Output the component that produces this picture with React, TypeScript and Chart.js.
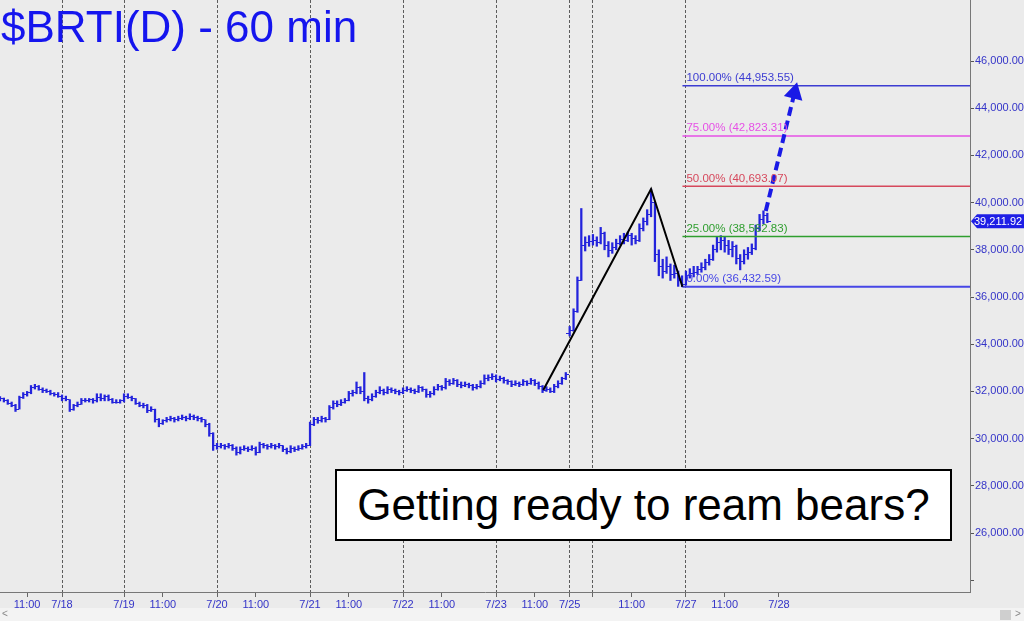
import React, { useEffect, useRef } from "react";
import { Chart, registerables } from "chart.js";

Chart.register(...registerables);

// ---------- DATA ----------
const opens = [
  31650, 31700, 31600, 31500, 31400, 31250, 31750, 31850, 31950, 32150,
  32200, 32100, 32050, 32000, 31900, 31850, 31800, 31700, 31650, 31250,
  31400, 31450, 31600, 31600, 31650, 31600, 31750, 31700, 31800, 31650,
  31550, 31550, 31600, 31800, 31750, 31700, 31500, 31400, 31400, 31200,
  31250, 30800, 30650, 30750, 30800, 30850, 30800, 30850, 30900, 30850,
  30950, 30900, 30850, 30800, 30600, 30200, 29700, 29650, 29700, 29650,
  29700, 29600, 29400, 29550, 29600, 29550, 29600, 29400, 29750, 29700,
  29650, 29700, 29650, 29700, 29550, 29450, 29600, 29550, 29600, 29650,
  29700, 30600, 30800, 30750, 30850, 30800, 31300, 31500, 31450, 31550,
  31600, 31900, 31950, 32150, 32000, 31700, 31650, 31800, 31950, 32050,
  31950, 32100, 32050, 32000, 31950, 32050, 32100, 32050, 32000, 32150,
  32100, 31850, 31900, 32100, 32200, 32150, 32400, 32350, 32450, 32300,
  32250, 32300, 32250, 32150, 32200, 32350, 32550, 32600, 32650, 32500,
  32550, 32450, 32400, 32300, 32350, 32300, 32400, 32350, 32450, 32350,
  32200, 32050, 32100, 32000, 32200, 32350, 32550, 34450, 34600, 35400,
  36700, 38200, 38300, 38350, 38400, 38300, 38700, 38200, 37950, 38100,
  38250, 38450, 38400, 38600, 38500, 38400, 38900, 39200, 39500, 40000,
  37800, 37300, 37100, 37300, 36950, 37000, 36700, 36550, 36900, 37000,
  37050, 37150, 37250, 37450, 37600, 38000, 38300, 38400, 38200, 38000,
  38150, 37650, 37500, 37800, 37900, 38050, 38900, 39300, 39450,
];
const highs = [
  31780, 31720, 31650, 31550, 31450, 31800, 31950, 32000, 32250, 32300,
  32250, 32150, 32100, 32050, 31950, 31950, 31850, 31800, 31650, 31450,
  31550, 31700, 31700, 31700, 31700, 31900, 31900, 31850, 31850, 31700,
  31650, 31650, 31900, 31900, 31800, 31700, 31550, 31500, 31450, 31350,
  31250, 30850, 30800, 30900, 30950, 30900, 30950, 31000, 30950, 31050,
  31000, 30950, 30900, 30800, 30650, 30250, 29800, 29800, 29750, 29800,
  29750, 29650, 29650, 29700, 29650, 29700, 29650, 29850, 29800, 29750,
  29800, 29750, 29800, 29700, 29600, 29700, 29650, 29700, 29750, 29800,
  30700, 30900, 30900, 30950, 30900, 31400, 31600, 31600, 31650, 31700,
  32000, 32050, 32400, 32200, 32800, 31800, 31900, 32050, 32200, 32100,
  32200, 32150, 32100, 32050, 32150, 32200, 32150, 32100, 32250, 32200,
  32100, 32000, 32200, 32300, 32250, 32550, 32500, 32550, 32500, 32400,
  32400, 32350, 32300, 32300, 32450, 32700, 32700, 32750, 32700, 32650,
  32600, 32500, 32450, 32450, 32400, 32500, 32450, 32550, 32500, 32400,
  32250, 32200, 32150, 32300, 32450, 32600, 32800, 34750, 35500, 36850,
  39750, 38550, 38600, 38650, 38550, 38950, 38750, 38350, 38300, 38450,
  38600, 38700, 38750, 38700, 38600, 39100, 39350, 39700, 40576, 40000,
  38000, 37600, 37700, 37400, 37350, 37100, 36900, 37100, 37200, 37300,
  37300, 37450, 37600, 37800, 38200, 38550, 38600, 38550, 38400, 38350,
  38200, 37800, 38000, 38100, 38250, 39050, 39500, 39650, 39550,
];
const lows = [
  31600, 31550, 31450, 31350, 31150, 31250, 31700, 31800, 31900, 32100,
  32050, 31950, 31950, 31850, 31800, 31750, 31600, 31600, 31150, 31200,
  31350, 31450, 31550, 31550, 31500, 31550, 31600, 31600, 31600, 31500,
  31500, 31500, 31550, 31700, 31600, 31450, 31350, 31300, 31100, 31150,
  30700, 30500, 30600, 30700, 30750, 30700, 30750, 30800, 30750, 30800,
  30800, 30750, 30700, 30500, 30100, 29500, 29550, 29600, 29550, 29600,
  29500, 29300, 29350, 29500, 29450, 29500, 29300, 29400, 29600, 29550,
  29600, 29550, 29600, 29450, 29350, 29400, 29450, 29500, 29550, 29600,
  29700, 30550, 30650, 30700, 30700, 30800, 31250, 31350, 31400, 31500,
  31600, 31800, 31900, 31900, 31600, 31500, 31600, 31750, 31900, 31850,
  31900, 31950, 31900, 31850, 31900, 32000, 31950, 31900, 31950, 32000,
  31750, 31750, 31850, 32050, 32050, 32100, 32250, 32300, 32200, 32150,
  32200, 32150, 32050, 32100, 32150, 32300, 32450, 32500, 32400, 32450,
  32350, 32300, 32200, 32250, 32200, 32250, 32250, 32300, 32250, 32100,
  31950, 32000, 31950, 31950, 32150, 32300, 32500, 34350, 34550, 35350,
  36700, 37950, 38150, 38200, 38150, 38250, 38000, 37700, 37850, 38000,
  38200, 38250, 38350, 38200, 38250, 38350, 38800, 39050, 39400, 37500,
  36900, 36800, 37000, 36700, 36800, 36450, 36432, 36500, 36800, 36850,
  36950, 37050, 37150, 37350, 37550, 37900, 38000, 37900, 37800, 37700,
  37400, 37150, 37400, 37600, 37800, 38000, 38800, 39100, 39150,
];
const closes = [
  31700, 31600, 31500, 31400, 31250, 31750, 31850, 31950, 32150, 32200,
  32100, 32050, 32000, 31900, 31850, 31800, 31700, 31650, 31250, 31400,
  31450, 31600, 31600, 31650, 31600, 31750, 31700, 31800, 31650, 31550,
  31550, 31600, 31800, 31750, 31700, 31500, 31400, 31400, 31200, 31250,
  30800, 30650, 30750, 30800, 30850, 30800, 30850, 30900, 30850, 30950,
  30900, 30850, 30800, 30600, 30200, 29700, 29650, 29700, 29650, 29700,
  29600, 29400, 29550, 29600, 29550, 29600, 29400, 29750, 29700, 29650,
  29700, 29650, 29700, 29550, 29450, 29600, 29550, 29600, 29650, 29700,
  30600, 30800, 30750, 30850, 30800, 31300, 31500, 31450, 31550, 31600,
  31900, 31950, 32150, 32000, 31700, 31650, 31800, 31950, 32050, 31950,
  32100, 32050, 32000, 31950, 32050, 32100, 32050, 32000, 32150, 32100,
  31850, 31900, 32100, 32200, 32150, 32400, 32350, 32450, 32300, 32250,
  32300, 32250, 32150, 32200, 32350, 32550, 32600, 32650, 32500, 32550,
  32450, 32400, 32300, 32350, 32300, 32400, 32350, 32450, 32350, 32200,
  32050, 32100, 32000, 32200, 32350, 32550, 32700, 34600, 35400, 36700,
  38200, 38300, 38350, 38400, 38300, 38700, 38200, 37950, 38100, 38250,
  38450, 38400, 38600, 38500, 38400, 38900, 39200, 39500, 40000, 37800,
  37300, 37100, 37300, 36950, 37000, 36700, 36550, 36900, 37000, 37050,
  37150, 37250, 37450, 37600, 38000, 38300, 38400, 38200, 38000, 38150,
  37650, 37500, 37800, 37900, 38050, 38900, 39300, 39450, 39211.92,
];

// x axis: bar index positions of tick labels
const xTickIndex = [7, 16, 32, 42, 56, 66, 80, 90, 104, 114, 128, 138, 147, 153, 163, 177, 187, 201];
const xTickLabels = ["11:00", "7/18", "7/19", "11:00", "7/20", "11:00", "7/21", "11:00", "7/22", "11:00", "7/23", "11:00", "7/25", "", "11:00", "7/27", "11:00", "7/28"];
const dayLineIndex = [16, 32, 56, 80, 104, 128, 147, 153, 177];
const yTicks = [24000, 26000, 28000, 30000, 32000, 34000, 36000, 38000, 40000, 42000, 44000, 46000];

// Fibonacci projection
const fibLevels = [44953.55, 42823.31, 40693.07, 38562.83, 36432.59];
const fibLabels = ["100.00%", "75.00%", "50.00%", "25.00%", "0.00%"];
const fibColors = ["#3c3cd2", "#e650e6", "#d6485c", "#2f9e2f", "#4646e6"];
const fibStartIndex = 176.1;

// ABC pattern
const abcIndex = [140.2, 168, 176.1];
const abcValues = [32055.7, 40576.6, 36432.59];

// projected arrow
const arrowIndex = [197.6, 205.0];
const arrowValues = [39644, 44644];

const X_MIN = 0;
const X_MAX = 250.3;
const Y_MIN = 23500;
const Y_MAX = 48585;

const BAR_COLOR = "#2323dc";
const AXIS_TEXT = "#3434c8";
const BG = "#ebebeb";
const FONT = "'Liberation Sans', Arial, sans-serif";

const fmt = (v: number) =>
  v.toLocaleString("en-US", { minimumFractionDigits: 2, maximumFractionDigits: 2 });

const zeroPad = (s: any) => {
  s.paddingTop = 0;
  s.paddingBottom = 0;
  s.paddingLeft = 0;
  s.paddingRight = 0;
};

export default function App() {
  const ref = useRef<HTMLCanvasElement>(null);

  useEffect(() => {
    document.body.style.margin = "0";
    const canvas = ref.current;
    if (!canvas) return;

    const tickCanvas = (side: "left" | "right") => {
      const c = document.createElement("canvas");
      c.width = 7;
      c.height = 1;
      const g = c.getContext("2d")!;
      g.fillStyle = BAR_COLOR;
      if (side === "left") g.fillRect(0, 0, 3, 1);
      else g.fillRect(4, 0, 3, 1);
      return c;
    };
    const openStyle = tickCanvas("left");
    const closeStyle = tickCanvas("right");

    Chart.defaults.font.family = FONT;

    const bgPlugin = {
      id: "bg",
      beforeDraw(chart: any) {
        const { ctx, width, height } = chart;
        ctx.save();
        ctx.fillStyle = BG;
        ctx.fillRect(0, 0, width, height);
        ctx.restore();
      },
    };

    const overlayPlugin = {
      id: "overlay",
      afterDatasetsDraw(chart: any) {
        const { ctx } = chart;
        const xs = chart.scales.x;
        const ys = chart.scales.y;
        ctx.save();
        ctx.font = `11.5px ${FONT}`;
        ctx.textBaseline = "alphabetic";
        ctx.textAlign = "left";
        fibLevels.forEach((lv, i) => {
          ctx.fillStyle = fibColors[i];
          ctx.fillText(
            `${fibLabels[i]} (${fmt(lv)})`,
            xs.getPixelForValue(fibStartIndex) + 4,
            ys.getPixelForValue(lv) - 4.5
          );
        });
        ctx.restore();
      },
      afterDraw(chart: any) {
        const { ctx, chartArea, width } = chart;
        const ys = chart.scales.y;
        const last = closes[closes.length - 1];
        const y = ys.getPixelForValue(last);
        const x0 = chartArea.right;
        ctx.save();
        ctx.fillStyle = "#1e1ee6";
        ctx.beginPath();
        ctx.moveTo(x0 + 1, y);
        ctx.lineTo(x0 + 7, y - 7);
        ctx.lineTo(width, y - 7);
        ctx.lineTo(width, y + 7);
        ctx.lineTo(x0 + 7, y + 7);
        ctx.closePath();
        ctx.fill();
        ctx.fillStyle = "#ffffff";
        ctx.font = `11px ${FONT}`;
        ctx.textBaseline = "middle";
        ctx.textAlign = "left";
        ctx.fillText(fmt(last), x0 + 4, y + 0.5);

        // scroll strip
        ctx.fillStyle = "#f3f3f3";
        ctx.fillRect(0, 608, width, 13);
        ctx.fillStyle = "#888";
        ctx.font = `10px ${FONT}`;
        ctx.fillText("<", 2, 614.5);
        ctx.fillStyle = "#cfcfcf";
        ctx.fillRect(1000, 610, 11, 10);
        ctx.fillStyle = "#888";
        ctx.fillText(">", 1015, 614.5);
        ctx.restore();
      },
    };

    const lineDs = (idx: number[], vals: number[], extra: any) => ({
      type: "line",
      data: idx.map((x, i) => ({ x, y: vals[i] })),
      pointRadius: 0,
      fill: false,
      tension: 0,
      ...extra,
    });

    const fibDatasets = fibLevels.map((lv, i) =>
      lineDs([fibStartIndex, X_MAX], [lv, lv], {
        borderColor: fibColors[i],
        borderWidth: i === 4 ? 2 : 1.5,
        order: 3,
      })
    );

    const chart = new Chart(canvas, {
      type: "line",
      data: {
        datasets: [
          lineDs(arrowIndex, arrowValues, {
            borderColor: "#1a1ae6",
            borderWidth: 4,
            borderDash: [9, 5],
            pointRadius: [0, 7],
            pointStyle: "triangle",
            rotation: 14,
            pointBackgroundColor: "#1a1ae6",
            pointBorderColor: "#1a1ae6",
            order: 0,
          }),
          lineDs(abcIndex, abcValues, {
            borderColor: "#000000",
            borderWidth: 2,
            order: 1,
          }),
          ...fibDatasets,
          {
            type: "line",
            data: opens.map((o, i) => ({ x: i, y: o })),
            showLine: false,
            pointStyle: openStyle,
            pointRadius: 2,
            order: 5,
          },
          {
            type: "line",
            data: closes.map((c, i) => ({ x: i, y: c })),
            showLine: false,
            pointStyle: closeStyle,
            pointRadius: 2,
            order: 5,
          },
          {
            type: "bar",
            data: highs.map((h, i) => ({ x: i, y: [lows[i], h] })),
            backgroundColor: BAR_COLOR,
            borderWidth: 0,
            barThickness: 1.6,
            grouped: false,
            order: 6,
          },
        ] as any,
      },
      options: {
        animation: false,
        responsive: false,
        devicePixelRatio: 1,
        events: [],
        layout: { padding: 0, autoPadding: false },
        plugins: {
          legend: { display: false },
          tooltip: { enabled: false },
          title: { display: false },
        },
        scales: {
          x: {
            type: "linear",
            min: X_MIN,
            max: X_MAX,
            offset: false,
            afterBuildTicks: (s: any) => {
              s.ticks = xTickIndex.map((v) => ({ value: v }));
            },
            afterFit: (s: any) => {
              s.height = 29;
              zeroPad(s);
            },
            ticks: {
              autoSkip: false,
              maxRotation: 0,
              minRotation: 0,
              color: AXIS_TEXT,
              font: { size: 11, family: FONT },
              padding: 1,
              callback: (v: any) => {
                const k = xTickIndex.indexOf(Number(v));
                return k >= 0 ? xTickLabels[k] : "";
              },
            },
            grid: {
              offset: false,
              color: (ctx: any) =>
                ctx.tick && dayLineIndex.includes(ctx.tick.value) ? "#5c5c5c" : "rgba(0,0,0,0)",
              lineWidth: 1,
              drawTicks: true,
              tickLength: 5,
              tickColor: "#666",
            },
            border: { display: true, color: "#777", dash: [3, 2] },
          },
          y: {
            type: "linear",
            position: "right",
            min: Y_MIN,
            max: Y_MAX,
            afterBuildTicks: (s: any) => {
              s.ticks = yTicks.map((v) => ({ value: v }));
            },
            afterFit: (s: any) => {
              s.width = 54;
              zeroPad(s);
            },
            ticks: {
              color: AXIS_TEXT,
              font: { size: 11, family: FONT },
              padding: 1,
              callback: (v: any) => (Number(v) === 24000 ? "" : fmt(Number(v))),
            },
            grid: {
              drawOnChartArea: false,
              drawTicks: true,
              tickLength: 4,
              tickColor: "#555",
            },
            border: { display: true, color: "#777" },
          },
        },
      } as any,
      plugins: [bgPlugin, overlayPlugin],
    });

    return () => chart.destroy();
  }, []);

  return (
    <div style={{ position: "relative", width: 1024, height: 621, overflow: "hidden" }}>
      <canvas ref={ref} width={1024} height={621} style={{ display: "block" }} />
      <div
        style={{
          position: "absolute",
          left: 1,
          top: 5,
          fontFamily: FONT,
          fontSize: 44,
          lineHeight: "44px",
          color: "#1515ee",
          whiteSpace: "nowrap",
        }}
      >
        $BRTI(D) - 60 min
      </div>
      <div
        style={{
          position: "absolute",
          left: 335,
          top: 469,
          width: 617,
          height: 72,
          boxSizing: "border-box",
          border: "2px solid #000",
          background: "#ffffff",
          display: "flex",
          alignItems: "center",
          justifyContent: "center",
          fontFamily: FONT,
          fontSize: 44,
          color: "#000",
          whiteSpace: "nowrap",
        }}
      >
        Getting ready to ream bears?
      </div>
    </div>
  );
}
